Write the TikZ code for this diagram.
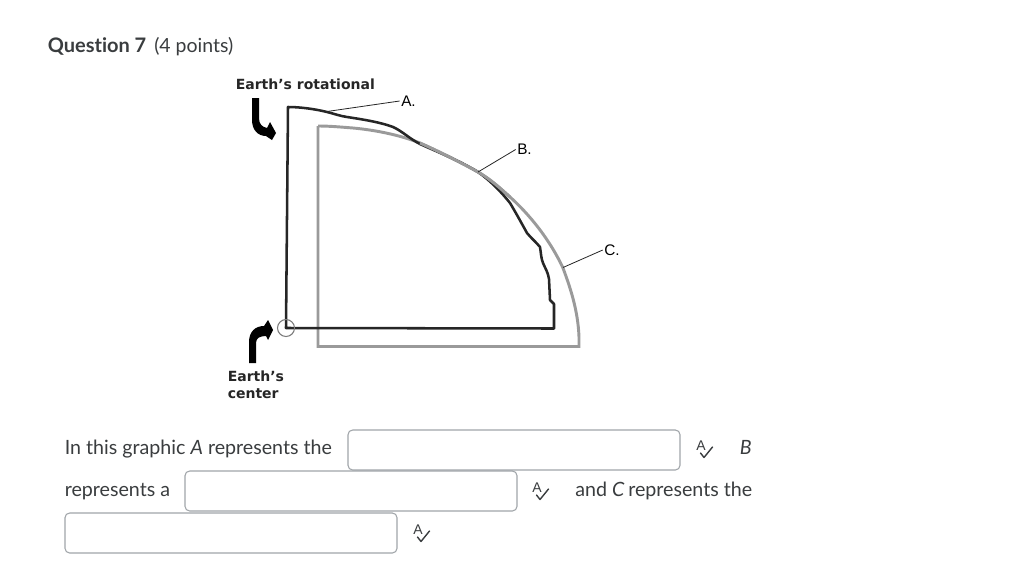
\documentclass[tikz,border=0pt]{standalone}
\usepackage{fontspec}
\setmainfont[Ligatures=NoCommon,Contextuals=NoAlternate]{Lato}
\newfontfamily\figfont{DejaVu Sans}
\newfontfamily\labfont{Liberation Sans}
\definecolor{ink}{HTML}{3A3D3F}
\definecolor{boxline}{HTML}{A0A5A9}
\definecolor{dark}{HTML}{262626}
\definecolor{greyl}{HTML}{9A9A9A}
\tikzset{
 x=0.75pt,y=-0.75pt,
 body/.style={inner sep=0,anchor=base west,text=ink,font=\fontsize{14.75pt}{17pt}\selectfont},
 figtext/.style={inner sep=0,anchor=base west,text=dark,font=\figfont\bfseries\fontsize{10.5pt}{13.2pt}\selectfont,align=left},
 lab/.style={inner sep=1pt,text=black,font=\labfont\fontsize{11.5pt}{12pt}\selectfont},
 answer/.style={draw=boxline,line width=0.8pt,rounded corners=3.5pt,fill=white},
 leader/.style={draw=black!85,line width=0.6pt},
 earth/.style={draw=dark,line width=1.9pt,line join=round},
 shell/.style={draw=greyl,line width=2.2pt,line join=miter},
 blob/.style={fill=black,draw=none},
}
\newcommand{\spellicon}[1]{%
 \node[inner sep=0,text=ink,font=\labfont\fontsize{10.5pt}{10.5pt}\selectfont] at ([shift={(-4,-4.5)}]#1) {A};
 \draw[ink,line width=1.05pt,line cap=round,line join=round] ([shift={(-4.5,3)}]#1) -- ([shift={(-1,7.5)}]#1) -- ([shift={(7.5,-3)}]#1);
}
\begin{document}
\begin{tikzpicture}
\useasboundingbox (0,0) rectangle (1024,579);
\fill[white] (0,0) rectangle (1024,579);
% heading
\node[body,text=ink,font=\bfseries\fontsize{15pt}{18pt}\selectfont] (qtitle) at (47.5,52) {Question 7};
\node[body,font=\fontsize{14.6pt}{17pt}\selectfont] (qpoints) at (154,52) {(4 points)};
% figure labels
\node[figtext] (rot) at (235.5,89) {Earth’s rotational};
\node[figtext] (ctr1) at (227.5,381) {Earth’s};
\node[figtext] (ctr2) at (227.5,398) {center};
\node[lab] (A) at (408.5,101) {A.};
\node[lab] (B) at (524.5,149.5) {B.};
\node[lab] (C) at (612,250) {C.};
% earth
\coordinate (pa) at (327,111.5);
\coordinate (pb) at (478,172);
\coordinate (pc) at (563,267.5);
\draw[shell] (318,126) -- (318,346.5) -- (579,346.5) -- (579,337)
  .. controls (578,310) and (570,287) .. (563,268)
  .. controls (550,240) and (530,215) .. (510,197)
  .. controls (500,188) and (490,179) .. (478,172)
  .. controls (460,162) and (440,152) .. (420,143)
  .. controls (400,135) and (375,130) .. (353,128)
  .. controls (340,127) and (330,126) .. (318,126);
\draw[earth] (286,328) -- (288,107)
  .. controls (300,107) and (315,109) .. (327,112)
  .. controls (335,114) and (340,116) .. (347,117)
  .. controls (360,119) and (380,122) .. (393,127)
  .. controls (402,131) and (410,139) .. (420,144)
  .. controls (440,153) and (460,161) .. (478,172)
  .. controls (492,182) and (502,193) .. (510,203)
  .. controls (516,213) and (522,224) .. (527,233)
  .. controls (531,238) and (536,242) .. (540,247)
  .. controls (541,253) and (541,258) .. (543,263)
  .. controls (545,268) and (548,272) .. (549,279)
  -- (550,300) -- (554,304) -- (554,328.5) -- cycle;
% grey passes over the dark outline where the two meet
\draw[shell] (510,197)
  .. controls (500,188) and (490,179) .. (478,172)
  .. controls (460,162) and (440,152) .. (420,143);
% leaders
\draw[leader] (pa) -- (A.west);
\draw[leader] (pb) -- (B.west);
\draw[leader] (pc) -- (C.west);
% arrows
\fill[blob] (252,98) -- (259,98) -- (259,118) .. controls (259,124) and (262,127) .. (267,128)
  -- (270,122) -- (276,133) -- (272,140) -- (266,136) .. controls (258,136) and (252,130) .. (252,120) -- cycle;
\fill[blob] (249,363) -- (256,363) -- (256,343) .. controls (256,338) and (260,336) .. (266,336)
  -- (268,340) -- (273,330) -- (268,320) -- (264,326) .. controls (255,326) and (249,332) .. (249,342) -- cycle;
\node[draw=greyl!80!black,line width=0.8pt,circle,minimum size=12.75pt,inner sep=0] (core) at (286,328) {};
% sentence
\node[body] (s1) at (64.5,454) {In this graphic \textit{A} represents the};
\node[answer,minimum width=249pt,minimum height=30pt,inner sep=0] (box1) at (514,450) {};
\node[body] (s2) at (739.5,454) {\textit{B}};
\node[body] (s3) at (64.5,496) {represents a};
\node[answer,minimum width=249pt,minimum height=30pt,inner sep=0] (box2) at (351,491) {};
\node[body] (s4) at (575,496) {and \textit{C}\kern-1pt{} represents the};
\node[answer,minimum width=249pt,minimum height=30pt,inner sep=0] (box3) at (231,533) {};
\coordinate (i1) at (705,450);
\coordinate (i2) at (541,492);
\coordinate (i3) at (422,534);
\spellicon{i1}
\spellicon{i2}
\spellicon{i3}
\end{tikzpicture}
\end{document}
